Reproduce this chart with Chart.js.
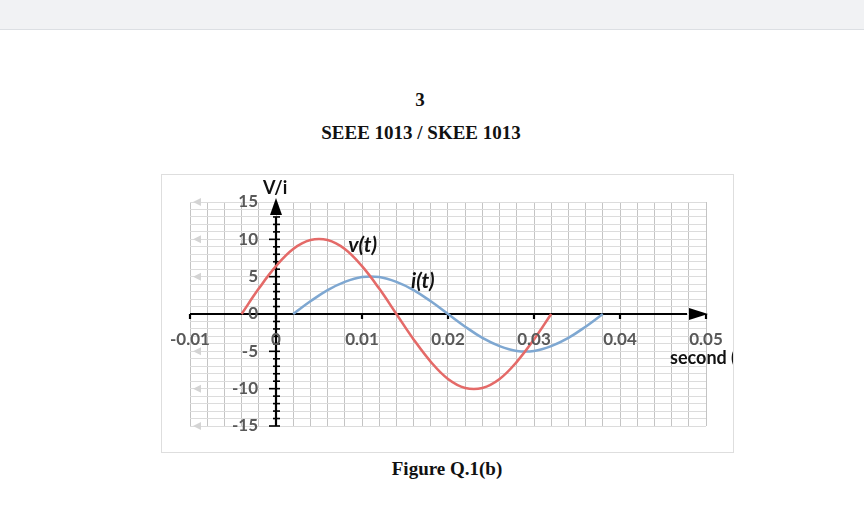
<!DOCTYPE html>
<html>
<head>
<meta charset="utf-8">
<script src="https://cdn.jsdelivr.net/npm/chart.js@4/dist/chart.umd.min.js"></script>
<style>
  body { margin: 0; width: 864px; height: 506px; background: #fff; position: relative; overflow: hidden; }
  #bar { position: absolute; left: 0; top: 0; width: 864px; height: 29px; background: #f1f2f4; border-bottom: 1px solid #dcdfe3; }
  .hd { position: absolute; font-family: "Liberation Serif", serif; font-weight: bold; font-size: 19px; color: #111; white-space: nowrap; transform: translate(-50%, -50%); }
  #box { position: absolute; left: 161px; top: 174px; width: 571px; height: 277px; border: 1px solid #dedede; }
  #Chart { position: absolute; left: 0; top: 0; }
</style>
</head>
<body>
<div id="bar"></div>
<div class="hd" style="left:420px;top:100px">3</div>
<div class="hd" style="left:421px;top:133px">SEEE 1013 / SKEE 1013</div>
<div id="box"></div>
<div class="hd" style="left:447px;top:469px">Figure Q.1(b)</div>
<canvas id="Chart" width="864" height="506"></canvas>
<script>
// v(t) 読み取り値
const timeV = [-0.004, -0.002, 0, 0.002, 0.004, 0.006, 0.008, 0.010, 0.012, 0.014, 0.016, 0.018, 0.020, 0.022, 0.024, 0.026, 0.028, 0.030, 0.032];
const voltage = [0, 3.4, 6.4, 8.7, 9.9, 9.9, 8.7, 6.4, 3.4, 0, -3.4, -6.4, -8.7, -9.9, -9.9, -8.7, -6.4, -3.4, 0];
// i(t) 読み取り値
const timeI = [0.002, 0.004, 0.006, 0.008, 0.010, 0.012, 0.014, 0.016, 0.018, 0.020, 0.022, 0.024, 0.026, 0.028, 0.030, 0.032, 0.034, 0.036, 0.038];
const current = [0, 1.7, 3.2, 4.3, 4.95, 4.95, 4.3, 3.2, 1.7, 0, -1.7, -3.2, -4.3, -4.95, -4.95, -4.3, -3.2, -1.7, 0];
// 目盛りラベル
const xTicks = [-0.01, 0, 0.01, 0.02, 0.03, 0.04, 0.05];
const xTickLabels = ['-0.01', '0', '0.01', '0.02', '0.03', '0.04', '0.05'];
const yTicks = [15, 10, 5, 0, -5, -10, -15];

const labelFont = 'bold 17px Lato, "Open Sans", sans-serif';

// 軸・矢印・ラベルを描く
const axesPlugin = {
  id: 'axes',
  beforeDatasetsDraw(chart) {
    const { ctx, scales: { x, y } } = chart;
    const x0 = x.getPixelForValue(0);
    const y0 = y.getPixelForValue(0);
    ctx.save();
    // 左側の灰色の三角
    ctx.fillStyle = '#d4d4d4';
    yTicks.forEach(v => {
      if (v === 0) return;
      const py = y.getPixelForValue(v);
      ctx.beginPath();
      ctx.moveTo(193, py);
      ctx.lineTo(201, py - 4);
      ctx.lineTo(201, py + 4);
      ctx.closePath();
      ctx.fill();
    });
    ctx.strokeStyle = '#000';
    ctx.fillStyle = '#000';
    ctx.lineWidth = 2.2;
    // x軸
    ctx.beginPath();
    ctx.moveTo(x.getPixelForValue(-0.01), y0);
    ctx.lineTo(x.getPixelForValue(0.0478), y0);
    ctx.stroke();
    ctx.beginPath();
    ctx.moveTo(x.getPixelForValue(0.05) + 2, y0);
    ctx.lineTo(x.getPixelForValue(0.05) - 17, y0 - 6);
    ctx.lineTo(x.getPixelForValue(0.05) - 17, y0 + 6);
    ctx.closePath();
    ctx.fill();
    xTicks.forEach(v => {
      const px = x.getPixelForValue(v);
      ctx.beginPath();
      ctx.moveTo(px, y0);
      ctx.lineTo(px, y0 + 5);
      ctx.stroke();
    });
    // y軸
    ctx.beginPath();
    ctx.moveTo(x0, y.getPixelForValue(-15));
    ctx.lineTo(x0, y.getPixelForValue(13));
    ctx.stroke();
    ctx.beginPath();
    ctx.moveTo(x0, y.getPixelForValue(15) - 4);
    ctx.lineTo(x0 - 6, y.getPixelForValue(15) + 13);
    ctx.lineTo(x0 + 6, y.getPixelForValue(15) + 13);
    ctx.closePath();
    ctx.fill();
    ctx.lineWidth = 1.6;
    for (let v = -15; v <= 13; v++) {
      const py = y.getPixelForValue(v);
      const major = v % 5 === 0;
      ctx.beginPath();
      ctx.moveTo(x0 - (major ? 7 : 3), py);
      ctx.lineTo(x0 + 4, py);
      ctx.stroke();
    }
    ctx.restore();
  },
  afterDraw(chart) {
    const { ctx, scales: { x, y } } = chart;
    const x0 = x.getPixelForValue(0);
    const y0 = y.getPixelForValue(0);
    ctx.save();
    ctx.font = labelFont;
    ctx.fillStyle = '#595959';
    ctx.textBaseline = 'middle';
    ctx.textAlign = 'right';
    yTicks.forEach(v => {
      ctx.fillText(String(v), x0 - 18, y.getPixelForValue(v));
    });
    ctx.textAlign = 'center';
    xTicks.forEach((v, i) => {
      ctx.fillText(xTickLabels[i], x.getPixelForValue(v), y0 + 26);
    });
    ctx.fillStyle = '#111';
    ctx.font = 'bold 18px Lato, "Open Sans", sans-serif';
    ctx.textAlign = 'left';
    ctx.fillText('V/i', x0 - 13, y.getPixelForValue(15) - 14);
    ctx.fillText('second (', 670, y0 + 44);
    ctx.font = 'italic bold 21px Lato, "Open Sans", sans-serif';
    ctx.fillText('v(t)', x.getPixelForValue(0.0084), y.getPixelForValue(9.2));
    ctx.fillText('i(t)', x.getPixelForValue(0.0157), y.getPixelForValue(4.4));
    ctx.restore();
    // 枠の外をはみ出さないように
    ctx.clearRect(733, 0, 131, 506);
  }
};

let lineCtx = document.getElementById('Chart');
let lineConfig = {
  type: 'scatter',
  data: {
    datasets: [
      {
        label: 'v(t)',
        data: timeV.map((t, i) => ({ x: t, y: voltage[i] })),
        showLine: true,
        borderColor: '#e46a68',
        borderWidth: 2.6,
        pointRadius: 0,
        tension: 0.4
      },
      {
        label: 'i(t)',
        data: timeI.map((t, i) => ({ x: t, y: current[i] })),
        showLine: true,
        borderColor: '#7ea7d1',
        borderWidth: 2.6,
        pointRadius: 0,
        tension: 0.4
      }
    ]
  },
  options: {
    responsive: false,
    animation: false,
    devicePixelRatio: 1,
    layout: { padding: { left: 190, right: 158, top: 202, bottom: 80 } },
    plugins: { legend: { display: false }, tooltip: { enabled: false } },
    scales: {
      x: {
        type: 'linear',
        min: -0.01,
        max: 0.05,
        ticks: { display: false, stepSize: 0.002 },
        grid: { color: '#c4c4c4', lineWidth: 1, drawTicks: false },
        border: { display: false }
      },
      y: {
        min: -15,
        max: 15,
        ticks: { display: false, stepSize: 1 },
        grid: { color: '#dcdcdc', lineWidth: 1, drawTicks: false },
        border: { display: false }
      }
    }
  },
  plugins: [axesPlugin]
};
let lineChart = new Chart(lineCtx, lineConfig);
</script>
</body>
</html>
